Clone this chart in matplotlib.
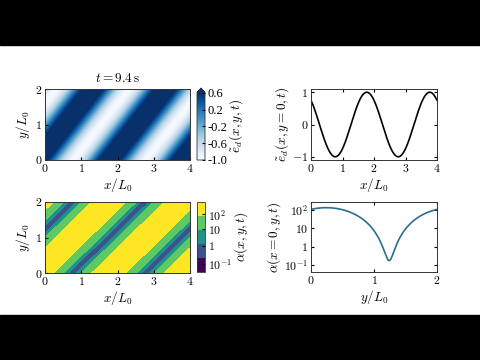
import numpy as np
import matplotlib
matplotlib.use("Agg")
import matplotlib.pyplot as plt
from matplotlib.colors import LogNorm
from matplotlib.patches import Rectangle

plt.rcParams["mathtext.fontset"] = "cm"
plt.rcParams["font.family"] = "serif"
plt.rcParams["font.serif"] = ["Liberation Serif", "DejaVu Serif"]
plt.rcParams["axes.linewidth"] = 0.7
plt.rcParams["axes.edgecolor"] = "#333333"

# Snapshot time and domain size (in units of L0)
t_snapshot = 9.4
Lx, Ly = 4.0, 2.0

# Plane-wave parameters of the order-parameter field
wavenumber = np.pi          # 2 pi / wavelength, wavelength = 2 L0
e_phase = 1.77              # crest position along x at y = 0
e_slope = 0.77              # dx/dy of the crests
alpha_phase = 0.76          # trough position of alpha along x - y
alpha_amp = 135.0
alpha_power = 1.5
alpha_floor = 0.012

# Colour scales and ticks
e_levels = (-1.0, 0.6)
e_ticks = [0.6, 0.2, -0.2, -0.6, -1.0]
alpha_levels = [10**-1.65, 10**-0.8, 10**0.05, 10**0.9, 10**1.75, 10**2.6]
alpha_ticks = [0.1, 1, 10, 100]
alpha_ticklabels = [r"$10^{-1}$", r"$1$", r"$10$", r"$10^{2}$"]
x_ticks = [0, 1, 2, 3, 4]
y_ticks = [0, 1, 2]
e_line_ticks = [-1, 0, 1]


def e_field(x, y):
    return np.cos(wavenumber * (x - e_slope * y - e_phase))


def alpha_field(x, y):
    u = 0.5 * (1 - np.cos(wavenumber * (x - y - alpha_phase)))
    return alpha_amp * ((u + alpha_floor) / (1 + alpha_floor)) ** alpha_power


x = np.linspace(0, Lx, 401)
y = np.linspace(0, Ly, 201)
X, Y = np.meshgrid(x, y)
E = e_field(X, Y)
A = alpha_field(X, Y)

W, H = 480, 360
fig = plt.figure(figsize=(W / 100, H / 100), dpi=100)


def box(l, t, r, b):
    return [l / W, 1 - b / H, (r - l) / W, (b - t) / H]


fs = 8.5


def mt(v):
    return [rf"${s}$" for s in v]


viridis = plt.get_cmap("viridis")
alpha_colors = [viridis(v) for v in np.linspace(0, 1, len(alpha_levels) - 1)]

# ---- top left: order parameter map
ax1 = fig.add_axes(box(45, 89, 190, 160))
pm = ax1.pcolormesh(X, Y, E, cmap="Blues", vmin=e_levels[0], vmax=e_levels[1],
                    shading="gouraud", rasterized=True)
ax1.set_xlim(0, Lx)
ax1.set_ylim(0, Ly)
ax1.set_xticks(x_ticks, mt(x_ticks), fontsize=fs)
ax1.set_yticks(y_ticks, mt(y_ticks), fontsize=fs)
ax1.set_xlabel(r"$x/L_0$", fontsize=fs + 1, labelpad=1)
ax1.set_ylabel(r"$y/L_0$", fontsize=fs + 1, labelpad=2)
ax1.set_title(rf"$t = {t_snapshot}\,\mathrm{{s}}$", fontsize=fs + 1, pad=5)
ax1.tick_params(direction="in", length=2, pad=2)

cax1 = fig.add_axes(box(197, 88, 205, 160))
cb1 = fig.colorbar(pm, cax=cax1, extend="max", extendfrac=0.07)
cb1.set_ticks(e_ticks, labels=[f"{v:.1f}" for v in e_ticks])
cb1.ax.tick_params(labelsize=fs + 0.5, length=2, direction="in", pad=2)
cb1.set_label(r"$\tilde{e}_d(x,y,t)$", fontsize=fs + 1, labelpad=0)
cb1.outline.set_linewidth(0.6)

# ---- bottom left: alpha map
ax2 = fig.add_axes(box(45, 202, 190, 273))
cf = ax2.contourf(X, Y, A, levels=alpha_levels, norm=LogNorm(), colors=alpha_colors)
ax2.set_xlim(0, Lx)
ax2.set_ylim(0, Ly)
ax2.set_xticks(x_ticks, mt(x_ticks), fontsize=fs)
ax2.set_yticks(y_ticks, mt(y_ticks), fontsize=fs)
ax2.set_xlabel(r"$x/L_0$", fontsize=fs + 1, labelpad=1)
ax2.set_ylabel(r"$y/L_0$", fontsize=fs + 1, labelpad=2)
ax2.tick_params(direction="in", length=2, pad=2)

cax2 = fig.add_axes(box(197, 202, 205, 272))
cb2 = fig.colorbar(cf, cax=cax2)
cb2.set_ticks(alpha_ticks, labels=alpha_ticklabels)
cb2.ax.minorticks_off()
cb2.ax.tick_params(labelsize=fs, length=2, direction="in", pad=2)
cb2.set_label(r"$\alpha(x,y,t)$", fontsize=fs + 1, labelpad=0)
cb2.outline.set_linewidth(0.6)

# ---- top right: cut at y = 0
ax3 = fig.add_axes(box(311, 89, 437, 160))
ax3.plot(x, e_field(x, 0.0), color="black", lw=1.2)
ax3.set_xlim(0, Lx)
ax3.set_ylim(-1.1, 1.1)
ax3.set_xticks(x_ticks, mt(x_ticks), fontsize=fs)
ax3.set_yticks(e_line_ticks, mt(e_line_ticks), fontsize=fs)
ax3.set_xlabel(r"$x/L_0$", fontsize=fs + 1, labelpad=1)
ax3.set_ylabel(r"$\tilde{e}_d(x,y=0,t)$", fontsize=fs + 1, labelpad=1)
ax3.tick_params(direction="in", length=2, pad=2, top=True, right=True)

# ---- bottom right: cut at x = 0
ax4 = fig.add_axes(box(311, 202, 437, 272))
ax4.plot(y, alpha_field(0.0, y), color="#2b6f8e", lw=1.2)
ax4.set_yscale("log")
ax4.set_xlim(0, Ly)
ax4.set_ylim(10**-1.38, 10**2.44)
ax4.set_xticks(y_ticks, mt(y_ticks), fontsize=fs)
ax4.set_yticks(alpha_ticks, alpha_ticklabels, fontsize=fs)
ax4.minorticks_off()
ax4.set_xlabel(r"$y/L_0$", fontsize=fs + 1, labelpad=1)
ax4.set_ylabel(r"$\alpha(x=0,y,t)$", fontsize=fs + 1, labelpad=1)
ax4.tick_params(direction="in", length=2, pad=2, top=True, right=True)

# letterbox bars
fig.patches.append(Rectangle((0, 1 - 45 / H), 1, 45 / H, transform=fig.transFigure,
                             color="black", zorder=10))
fig.patches.append(Rectangle((0, 0), 1, 45 / H, transform=fig.transFigure,
                             color="black", zorder=10))

fig.savefig("out.png", dpi=100)
